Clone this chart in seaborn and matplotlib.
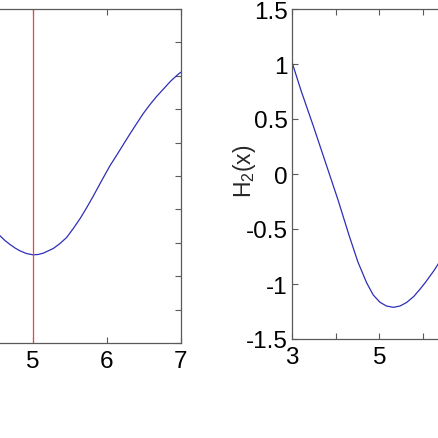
import numpy as np
import pandas as pd
import matplotlib
matplotlib.use("Agg")
import matplotlib.pyplot as plt
import seaborn as sns

# Left panel curve
left_x = [4.50, 4.554, 4.62, 4.689, 4.76, 4.824, 4.91, 5.00, 5.07, 5.139, 5.274, 5.36, 5.455, 5.545, 5.635, 5.725, 5.815, 5.93, 6.041, 6.13, 6.220, 6.31, 6.401, 6.49, 6.581, 6.67, 6.761, 6.86, 6.964, 7.00]
left_y = [0.329, 0.321, 0.307, 0.295, 0.284, 0.276, 0.268, 0.264, 0.265, 0.269, 0.283, 0.297, 0.316, 0.343, 0.372, 0.405, 0.440, 0.487, 0.531, 0.562, 0.594, 0.626, 0.657, 0.687, 0.714, 0.738, 0.760, 0.784, 0.805, 0.811]
marker_x = 5.0

# Right panel curve H2(x)
right_x = [3.00, 3.22, 3.49, 3.75, 4.06, 4.31, 4.51, 4.71, 4.86, 5.01, 5.16, 5.32, 5.47, 5.62, 5.78, 5.93, 6.05, 6.15, 6.25, 6.34, 6.50]
right_y = [1.025, 0.75, 0.44, 0.13, -0.24, -0.56, -0.80, -0.99, -1.10, -1.165, -1.200, -1.212, -1.200, -1.168, -1.115, -1.045, -0.985, -0.93, -0.875, -0.818, -0.72]
right_yticks = [-1.5, -1, -0.5, 0, 0.5, 1, 1.5]
right_yticklabels = ["-1.5", "-1", "-0.5", "0", "0.5", "1", "1.5"]
right_xticks = [3, 4, 5, 6, 7]
right_xticklabels = ["3", "", "5", "", ""]
left_xticks = [3, 4, 5, 6, 7]
left_xticklabels = ["", "", "5", "6", "7"]
ylabel_right = "H$_2$(x)"

sns.set_style("white")
plt.rcParams['font.family'] = ['Liberation Sans', 'DejaVu Sans']
plt.rcParams['mathtext.fontset'] = 'custom'
plt.rcParams['mathtext.rm'] = 'Liberation Sans'
plt.rcParams['mathtext.it'] = 'Liberation Sans'

W = H = 439
fig = plt.figure(figsize=(W / 100, H / 100), dpi=100)
fig.patch.set_facecolor("white")

spine_col = "#5a5a5a"
line_col = "#2e2eb8"
fs = 17.5

def px_rect(l, r, t, b):
    return [l / W, 1 - b / H, (r - l) / W, (b - t) / H]

# left axes: x 3..7 with 74 px/unit, right edge at 181
axL = fig.add_axes(px_rect(181 - 4 * 74, 181, 10, 344))
dfL = pd.DataFrame({"x": left_x, "y": left_y})
sns.lineplot(data=dfL, x="x", y="y", ax=axL, color=line_col, lw=0.9, estimator=None, sort=False)
axL.axvline(marker_x, color="#ff3c3c", lw=0.9)
axL.set_xlim(3, 7)
axL.set_ylim(0, 1)
axL.set_xticks(left_xticks)
axL.set_xticklabels(left_xticklabels)
axL.set_yticks(np.linspace(0, 1, 11))
axL.set_yticklabels([])

# right axes: x 3..7, 43.85 px/unit, left edge at 291.7
axR = fig.add_axes(px_rect(291.7, 291.7 + 4 * 43.85, 10, 340))
dfR = pd.DataFrame({"x": right_x, "y": right_y})
sns.lineplot(data=dfR, x="x", y="y", ax=axR, color=line_col, lw=0.9, estimator=None, sort=False)
axR.set_xlim(3, 7)
axR.set_ylim(-1.5, 1.5)
axR.set_xticks(right_xticks)
axR.set_xticklabels(right_xticklabels)
axR.set_yticks(right_yticks)
axR.set_yticklabels(right_yticklabels)

for ax in (axL, axR):
    ax.set_xlabel("")
    ax.set_ylabel("")
    for s in ax.spines.values():
        s.set_visible(True)
        s.set_color(spine_col)
        s.set_linewidth(0.9)
    ax.tick_params(direction="in", length=4, width=0.8, color=spine_col,
                   top=True, right=True, bottom=True, left=True,
                   labelsize=fs, labelcolor="black")
    ax.tick_params(axis="x", pad=5)
    ax.tick_params(axis="y", pad=3)
    ax.set_facecolor("white")

axR.set_ylabel(ylabel_right, fontsize=16.5)
axR.yaxis.set_label_coords(-0.19, 0.51)

fig.savefig("out.png", dpi=100, facecolor="white")
